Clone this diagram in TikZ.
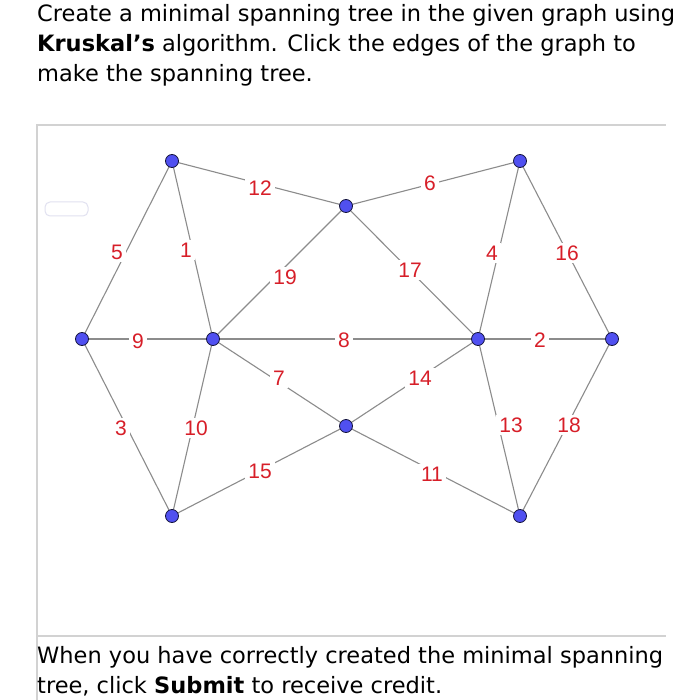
\documentclass[tikz,border=0pt]{standalone}
\usepackage{fontspec}
\setmainfont{DejaVu Sans}
\newfontfamily\lab{Liberation Sans}
\begin{document}
\begin{tikzpicture}[x=1pt,y=-1pt,
  vtx/.style={circle,fill={rgb,255:red,80;green,80;blue,240},draw={rgb,255:red,20;green,20;blue,60},line width=0.8pt,minimum size=13pt,inner sep=0pt},
  wt/.style={fill=white,text={rgb,255:red,215;green,30;blue,40},font=\lab\fontsize{21}{21}\selectfont,inner sep=3pt},
  edge/.style={draw={rgb,255:red,140;green,140;blue,140},line width=1.1pt},
  txt/.style={anchor=base west,inner sep=0pt,font=\fontsize{22.5}{26}\selectfont}]
\useasboundingbox (0,0) rectangle (698,700);
\fill[white] (0,0) rectangle (698,700);
\draw[draw={rgb,255:red,210;green,210;blue,210},line width=1.2pt] (37,700) -- (37,125) -- (666,125);
\draw[draw={rgb,255:red,210;green,210;blue,210},line width=1.2pt] (37,636) -- (666,636);
\draw[draw={rgb,255:red,225;green,225;blue,240},line width=1pt,rounded corners=5pt] (45,202) rectangle (88,216);
\node[txt] (t1) at (37,22) {Create a minimal spanning tree in the given graph using};
\node[txt] (t2) at (37,52) {\textbf{Kruskal\char"0027s} algorithm. Click the edges of the graph to};
\node[txt] (t3) at (37,82) {make the spanning tree.};
\node[txt] (t4) at (37,663) {When you have correctly created the minimal spanning};
\node[txt] (t5) at (37,693) {tree, click \textbf{Submit} to receive credit.};
\coordinate (A) at (172,161); \coordinate (B) at (346,206); \coordinate (C) at (520,161);
\coordinate (D) at (82,339); \coordinate (E) at (213,339); \coordinate (F) at (478,339);
\coordinate (G) at (612,339); \coordinate (H) at (346,426); \coordinate (I) at (172,516);
\coordinate (J) at (520,516);
\foreach \a/\b in {A/B,B/C,A/D,A/E,B/E,B/F,C/F,C/G,D/E,E/F,F/G,E/H,H/F,D/I,E/I,I/H,H/J,F/J,G/J}
  \draw[edge] (\a) -- (\b);
\node[wt] (w12) at (260,188) {12};
\node[wt] (w6) at (430,183) {6};
\node[wt] (w5) at (117,252) {5};
\node[wt] (w1) at (186,250) {1};
\node[wt] (w19) at (285,277) {19};
\node[wt] (w17) at (410,270) {17};
\node[wt] (w4) at (492,253) {4};
\node[wt] (w16) at (567,253) {16};
\node[wt] (w9) at (138,341) {9};
\node[wt] (w8) at (344,340) {8};
\node[wt] (w2) at (540,340) {2};
\node[wt] (w7) at (279,378) {7};
\node[wt] (w14) at (420,378) {14};
\node[wt] (w3) at (121,428) {3};
\node[wt] (w10) at (196,428) {10};
\node[wt] (w13) at (511,425) {13};
\node[wt] (w18) at (569,425) {18};
\node[wt] (w15) at (260,471) {15};
\node[wt] (w11) at (432,474) {11};
\foreach \v in {A,B,C,D,E,F,G,H,I,J} \node[vtx] (n\v) at (\v) {};
\end{tikzpicture}
\end{document}
